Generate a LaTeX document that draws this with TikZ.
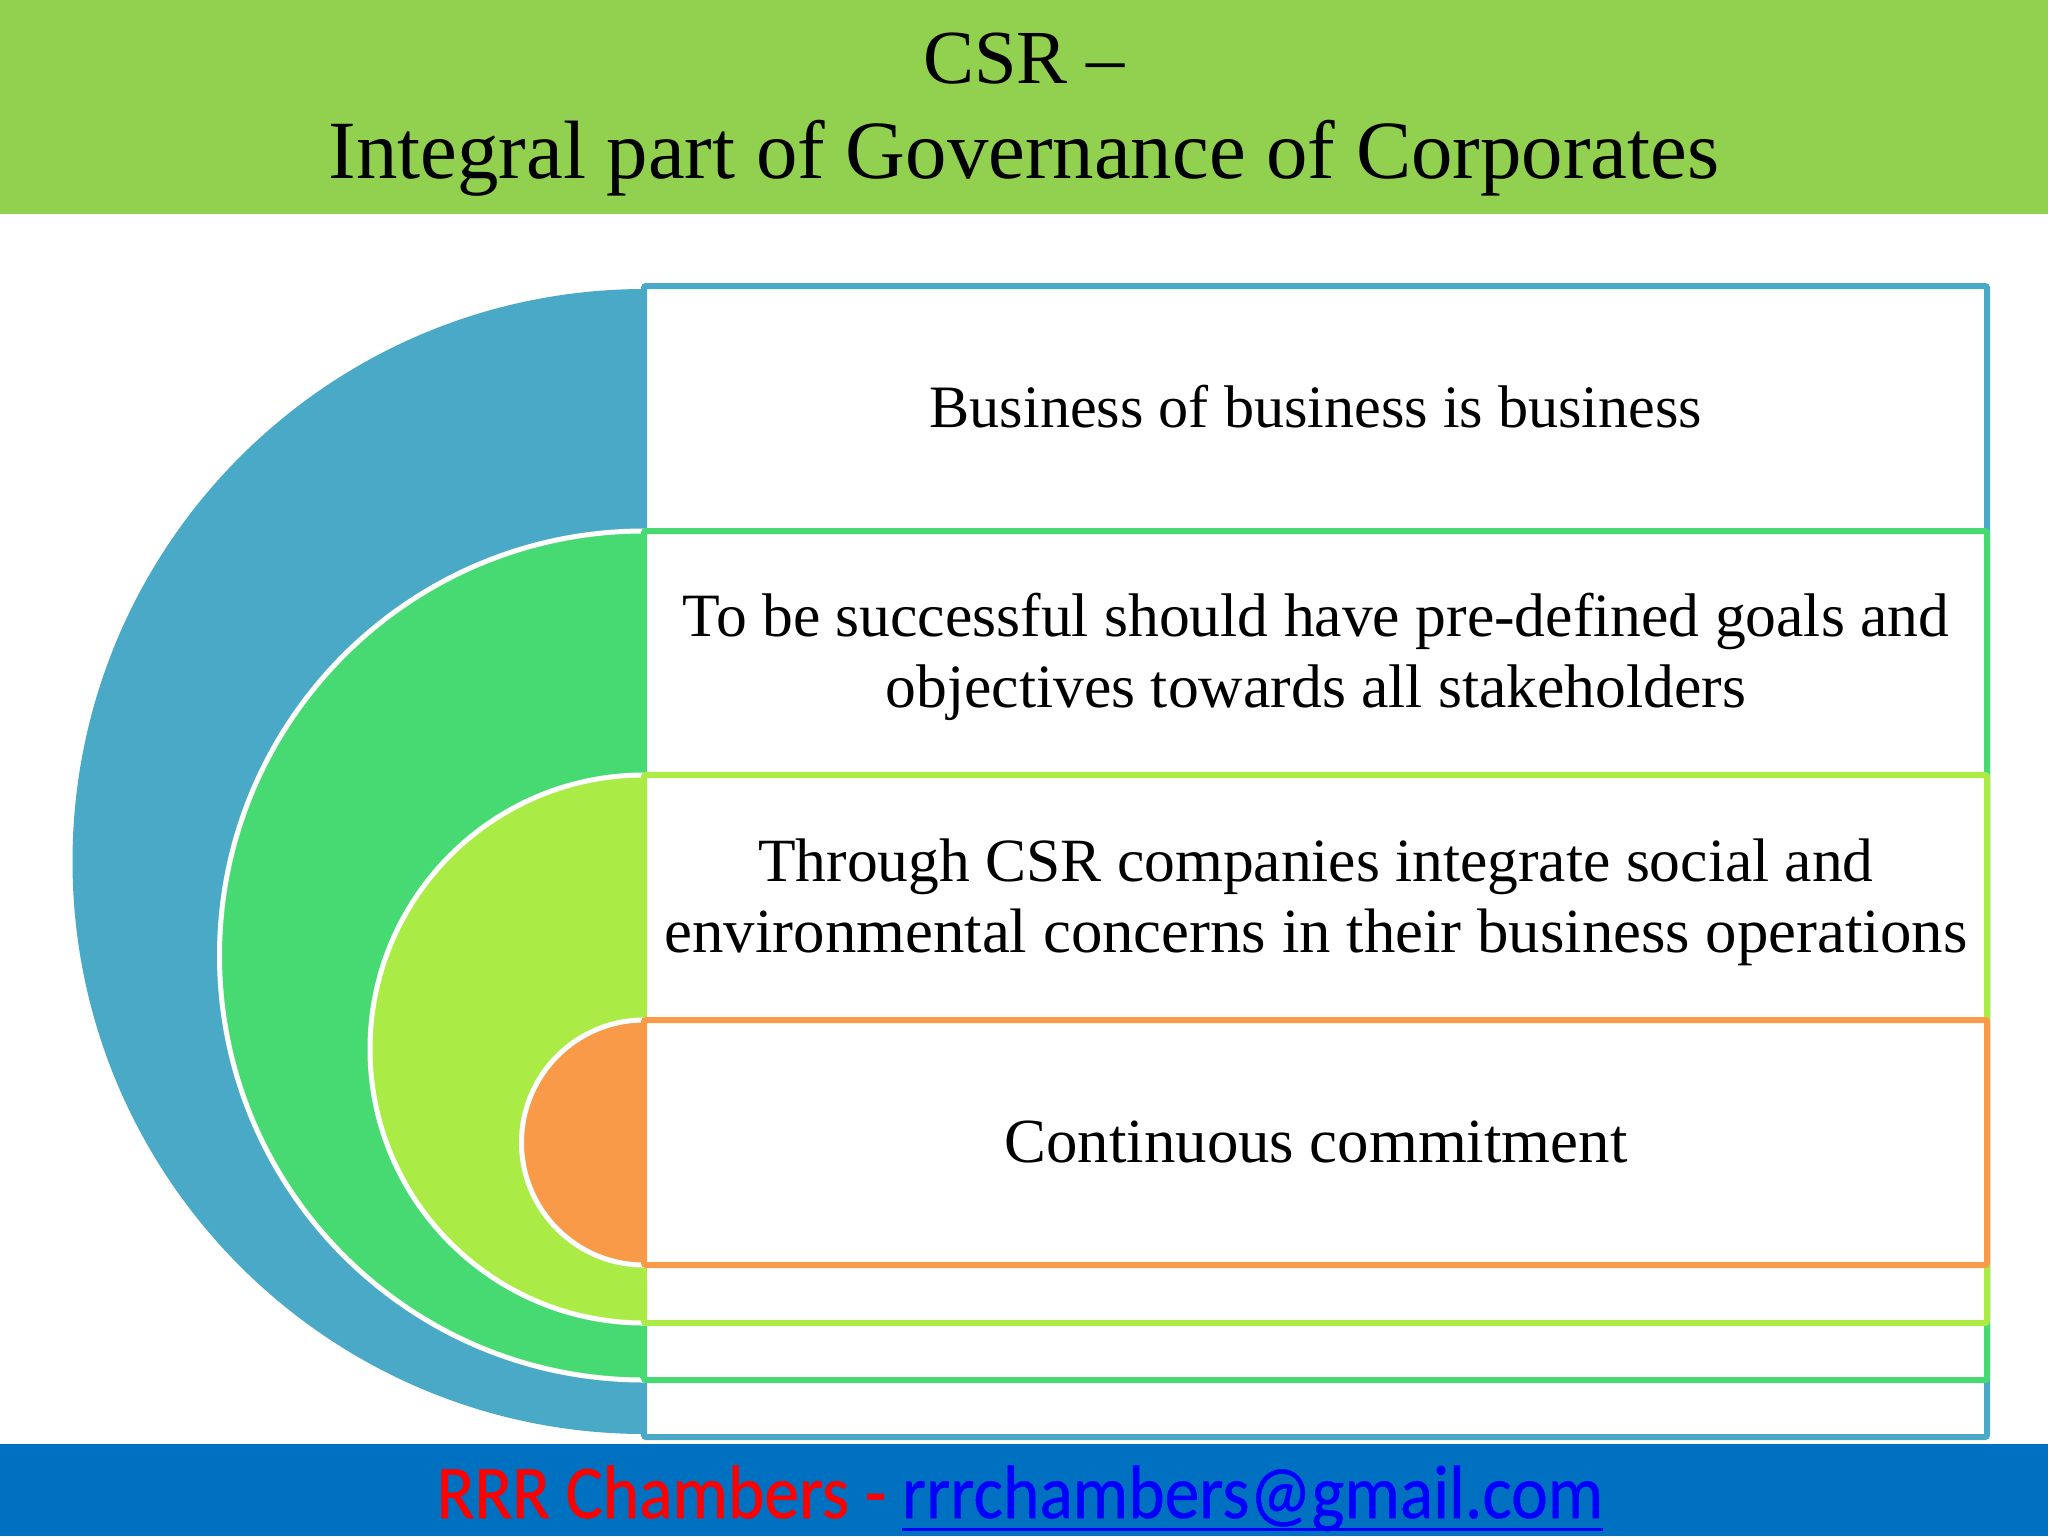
\documentclass[tikz,border=0pt]{standalone}
\usepackage{fontspec}
\setmainfont{Liberation Serif}
\newfontfamily\footfont[FakeStretch=0.914,FakeBold=0.6]{Carlito}
\definecolor{hdr}{HTML}{92D050}
\definecolor{ftr}{HTML}{0070C0}
\definecolor{cblue}{HTML}{4BA9C8}
\definecolor{cgreen}{HTML}{47DA73}
\definecolor{clime}{HTML}{ABEB45}
\definecolor{corange}{HTML}{F89A48}
\newcommand\mailline[1]{\setbox0\hbox{#1}\rlap{\rule[-6.25pt]{\wd0}{1.5pt}}\box0}
\newcommand\fs[1]{\fontsize{#1}{35.5}\selectfont}
\tikzset{
  x=0.5pt,y=-0.5pt,
  band/.style={draw=#1,fill=white,line width=3pt,rounded corners=1pt,anchor=north west,minimum width=671.5pt,inner sep=0pt,outer sep=0pt},
  bodytext/.style={align=center,font=\fontsize{31.4}{35.5}\selectfont,text=black,inner sep=0pt},
  titletext/.style={align=center,font=\fontsize{41.4}{47.5}\selectfont,text=black,inner sep=0pt},
  halo/.style={draw=white,line width=2.5pt},
}
\begin{document}
\begin{tikzpicture}
\useasboundingbox (0,0) rectangle (2048,1536);
\fill[white] (0,0) rectangle (2048,1536);
\fill[hdr] (0,0) rectangle (2048,214);
\fill[ftr] (0,1444) rectangle (2048,1536);
\node[titletext] (title) at (1024,115) {{\fontsize{38.2}{47.5}\selectfont CSR --}\\Integral part of Governance of Corporates};
% blue
\fill[cblue] (645,289) arc[start angle=90,end angle=270,radius=572.5*0.5pt] -- cycle;
\node[band=cblue,minimum height=575.5pt] (r1) at (644,286) {};
% green
\filldraw[fill=cgreen,halo] (644,531) arc[start angle=90,end angle=270,radius=424.5*0.5pt] -- cycle;
\fill[cgreen] (640,534) rectangle (647,1378);
\node[band=cgreen,minimum height=424.5pt] (r2) at (644,531) {};
% lime
\filldraw[fill=clime,halo] (644,775) arc[start angle=90,end angle=270,radius=274*0.5pt] -- cycle;
\fill[clime] (640,778) rectangle (647,1320);
\node[band=clime,minimum height=274pt] (r3) at (644,775) {};
% orange
\filldraw[fill=corange,halo] (644,1020) arc[start angle=90,end angle=270,radius=122.5*0.5pt] -- cycle;
\node[band=corange,minimum height=122.5pt] (r4) at (644,1020) {};
\node[bodytext,font=\fs{30.1}] (t1) at (1316,407) {Business of business is business};
\node[bodytext,font=\fs{30.8}] (t2) at (1316,657) {To be successful should have pre-defined goals and\\objectives towards all stakeholders};
\node[bodytext] (t3) at (1316,902) {{\fs{30.75}Through CSR companies integrate social and}\\environmental concerns in their business operations};
\node[bodytext] (t4) at (1316,1141.5) {Continuous commitment};
\node[inner sep=0pt,font=\footfont\fontsize{38}{40}\selectfont,anchor=base] (foot) at (1020,1518)
  {\textcolor{red}{RRR Chambers -} \textcolor{blue}{\mailline{rrrchambers@gmail.com}}};
\end{tikzpicture}
\end{document}
